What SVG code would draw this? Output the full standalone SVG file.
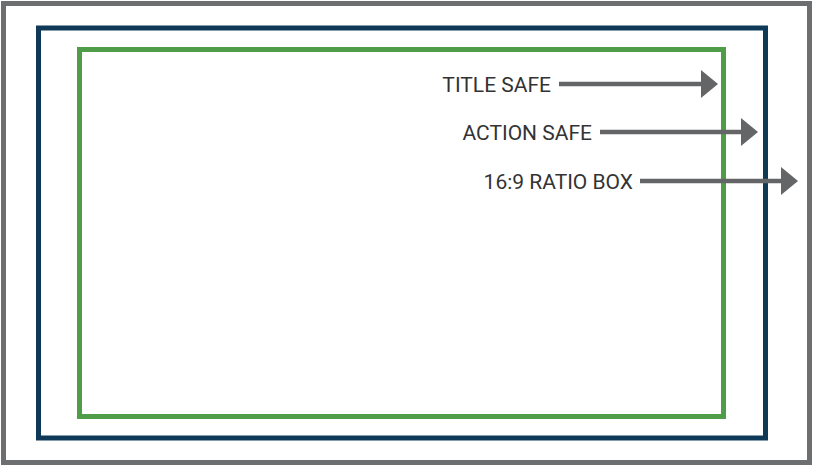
<svg xmlns="http://www.w3.org/2000/svg" width="814" height="466" viewBox="0 0 814 466">
<style>
.lbl{font-family:Roboto,"Liberation Sans",sans-serif;font-size:21px;fill:#333;text-anchor:end}
.ln{stroke:#646567;stroke-width:4.5}
.hd{fill:#646567}
</style>
<rect width="814" height="466" fill="#fff"/>
<g id="frame-169"><rect x="3.5" y="3.5" width="806" height="459" fill="none" stroke="#6d6e70" stroke-width="5"/></g>
<g id="action-safe"><rect x="38.5" y="28" width="727" height="410" fill="none" stroke="#0e3a57" stroke-width="5"/></g>
<g id="title-safe"><rect x="79.5" y="49.5" width="644" height="367" fill="none" stroke="#4f9d48" stroke-width="5"/></g>
<g id="labels">
<text class="lbl" x="551" y="92">TITLE SAFE</text>
<text class="lbl" x="592" y="140">ACTION SAFE</text>
<text class="lbl" x="633" y="189">16:9 RATIO BOX</text>
</g>
<g id="connectors">
<line class="ln" x1="559" y1="84" x2="703" y2="84"/><polygon class="hd" points="701,70 718,84 701,98"/>
<line class="ln" x1="600" y1="132" x2="743" y2="132"/><polygon class="hd" points="741,118 758,132 741,146"/>
<line class="ln" x1="640" y1="181" x2="783" y2="181"/><polygon class="hd" points="781,167 798,181 781,195"/>
</g>
</svg>
